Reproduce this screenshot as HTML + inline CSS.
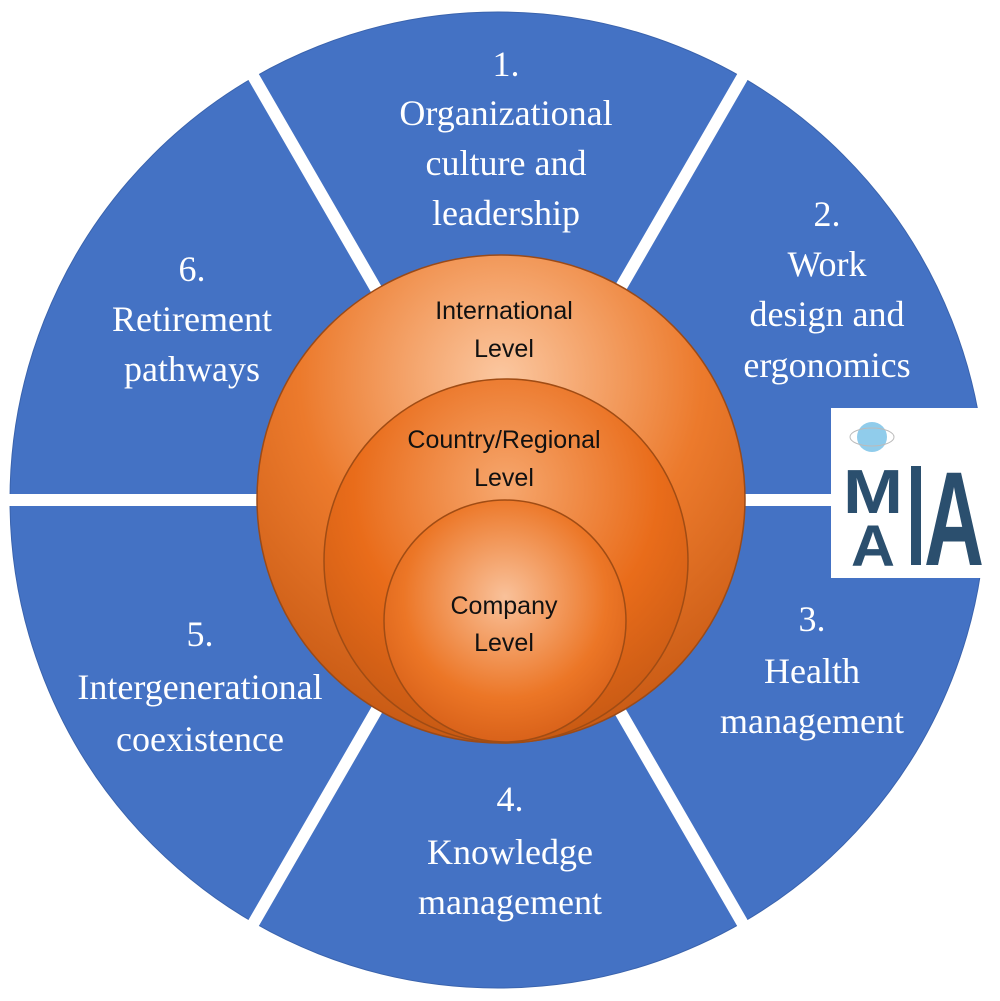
<!DOCTYPE html>
<html><head><meta charset="utf-8"><style>
html,body{margin:0;padding:0;background:#fff}
svg{display:block}
.w{font-family:"Liberation Serif",serif;font-size:36px;fill:#fff;text-anchor:middle}
.b{font-family:"Liberation Sans",sans-serif;font-size:25px;fill:#111;text-anchor:middle}
</style></head><body>
<svg width="1000" height="1001" viewBox="0 0 1000 1001" xmlns="http://www.w3.org/2000/svg">
<defs>
<radialGradient id="g1" cx="50%" cy="25%" r="75%">
<stop offset="0" stop-color="#fbc7a0"/><stop offset="0.55" stop-color="#ec7a2c"/><stop offset="1" stop-color="#c85a14"/>
</radialGradient>
<radialGradient id="g2" cx="50%" cy="30%" r="70%">
<stop offset="0" stop-color="#f6a76e"/><stop offset="0.6" stop-color="#e96c1a"/><stop offset="1" stop-color="#c85a14"/>
</radialGradient>
<radialGradient id="g3" cx="50%" cy="40%" r="60%">
<stop offset="0" stop-color="#f9c19a"/><stop offset="0.7" stop-color="#ec7626"/><stop offset="1" stop-color="#d9621a"/>
</radialGradient>
</defs>
<circle cx="498" cy="500" r="488" fill="#4472c4" stroke="#3a63ad" stroke-width="1"/>
<g stroke="#fff" stroke-width="12">
<line x1="498" y1="500" x2="1000" y2="500"/>
<line x1="498" y1="500" x2="0" y2="500"/>
<line x1="498" y1="500" x2="249" y2="69"/>
<line x1="498" y1="500" x2="747" y2="69"/>
<line x1="498" y1="500" x2="249" y2="931"/>
<line x1="498" y1="500" x2="747" y2="931"/>
</g>
<circle cx="501" cy="499" r="244" fill="url(#g1)" stroke="#9a4a18" stroke-width="1.5"/>
<circle cx="506" cy="561" r="182" fill="url(#g2)" stroke="#a04c14" stroke-width="1.5"/>
<circle cx="505" cy="621" r="121" fill="url(#g3)" stroke="#a04c14" stroke-width="1.5"/>
<text class="b" x="504" y="319">International</text>
<text class="b" x="504" y="357">Level</text>
<text class="b" x="504" y="448">Country/Regional</text>
<text class="b" x="504" y="486">Level</text>
<text class="b" x="504" y="614">Company</text>
<text class="b" x="504" y="651">Level</text>
<g class="w">
<text x="506" y="76">1.</text>
<text x="506" y="125">Organizational</text>
<text x="506" y="175">culture and</text>
<text x="506" y="225">leadership</text>
<text x="827" y="226">2.</text>
<text x="827" y="276">Work</text>
<text x="827" y="326">design and</text>
<text x="827" y="377">ergonomics</text>
<text x="192" y="281">6.</text>
<text x="192" y="331">Retirement</text>
<text x="192" y="381">pathways</text>
<text x="200" y="646">5.</text>
<text x="200" y="699">Intergenerational</text>
<text x="200" y="751">coexistence</text>
<text x="812" y="631">3.</text>
<text x="812" y="683">Health</text>
<text x="812" y="733">management</text>
<text x="510" y="811">4.</text>
<text x="510" y="864">Knowledge</text>
<text x="510" y="914">management</text>
</g>
<rect x="831" y="408" width="158" height="170" fill="#fff"/>
<circle cx="872" cy="437" r="15" fill="#7cc3e8" opacity="0.85"/>
<ellipse cx="872" cy="437" rx="22" ry="9" fill="none" stroke="#bbb" stroke-width="1"/>
<g font-family="Liberation Sans,sans-serif" font-weight="bold" fill="#2b4f6e">
<text x="843" y="513" font-size="62" textLength="60" lengthAdjust="spacingAndGlyphs">M</text>
<text x="851" y="566" font-size="58" textLength="44" lengthAdjust="spacingAndGlyphs">A</text>
<rect x="911" y="466" width="10" height="99"/>
<text x="924" y="565" font-size="134" textLength="60" lengthAdjust="spacingAndGlyphs">A</text>
</g>
</svg>
</body></html>
